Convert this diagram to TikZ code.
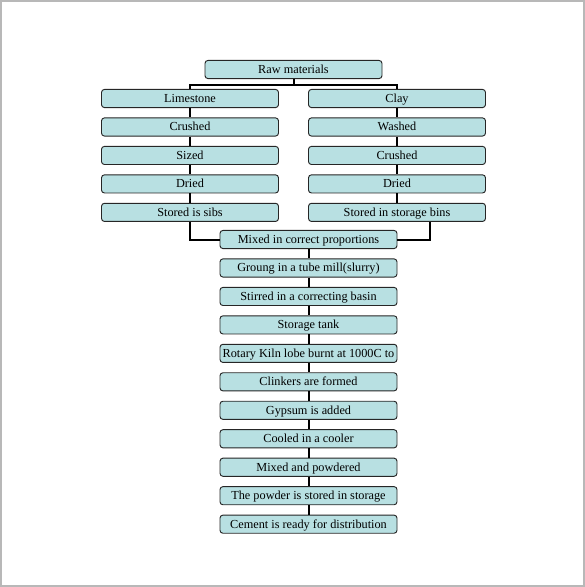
\documentclass[tikz,border=0pt]{standalone}
\usepackage{fontspec}
\setmainfont{Liberation Serif}
\usetikzlibrary{positioning}
\definecolor{boxfill}{RGB}{184,224,226}
\tikzset{
  stage/.style = {draw=black!85, fill=boxfill, rounded corners=2.2pt,
    line width=0.7pt, minimum width=132.75pt, minimum height=13.6pt,
    inner sep=0pt, text height=7.2pt, text depth=1.2pt, align=center,
    font=\fontsize{9.2}{10}\selectfont},
  link/.style = {line width=1.5pt, black}
}
\begin{document}
\begin{tikzpicture}[x=0.75pt, y=-0.75pt, node distance=7.05pt]
  % page frame
  \draw[black!28, line width=1.2pt] (0.8,0.8) rectangle (584.2,586.2);
  \useasboundingbox (0,0) rectangle (585,587);
  % top and the two branches
  \node (raw) [stage] at (293.5,69.5) {Raw materials};
  \node (lime) [stage] at (190,98.5) {Limestone};
  \node (lcrush) [stage, below=of lime] {Crushed};
  \node (sized) [stage, below=of lcrush] {Sized};
  \node (ldried) [stage, below=of sized] {Dried};
  \node (sibs) [stage, below=of ldried] {Stored is sibs};
  \node (clay) [stage] at (397,98.5) {Clay};
  \node (washed) [stage, below=of clay] {Washed};
  \node (ccrush) [stage, below=of washed] {Crushed};
  \node (cdried) [stage, below=of ccrush] {Dried};
  \node (bins) [stage, below=of cdried] {Stored in storage bins};
  % main line
  \node (mixed) [stage] at (308.5,239.5) {Mixed in correct proportions};
  \node (mill) [stage, below=of mixed] {Groung in a tube mill(slurry)};
  \node (basin) [stage, below=of mill] {Stirred in a correcting basin};
  \node (tank) [stage, below=of basin] {Storage tank};
  \node (kiln) [stage, below=of tank] {Rotary Kiln lobe burnt at 1000C to};
  \node (clinker) [stage, below=of kiln] {Clinkers are formed};
  \node (gypsum) [stage, below=of clinker] {Gypsum is added};
  \node (cooled) [stage, below=of gypsum] {Cooled in a cooler};
  \node (powder) [stage, below=of cooled] {Mixed and powdered};
  \node (stored) [stage, below=of powder] {The powder is stored in storage};
  \node (cement) [stage, below=of stored] {Cement is ready for distribution};
  % connectors
  \coordinate (fork) at (293.5,84.5);
  \coordinate (rdrop) at (430,0);
  \draw[link] (raw.south) -- (fork);
  \draw[link] (lime.north) |- (fork) -| (clay.north);
  \foreach \a/\b in {lime/lcrush, lcrush/sized, sized/ldried, ldried/sibs,
      clay/washed, washed/ccrush, ccrush/cdried, cdried/bins,
      mixed/mill, mill/basin, basin/tank, tank/kiln, kiln/clinker,
      clinker/gypsum, gypsum/cooled, cooled/powder, powder/stored,
      stored/cement}
    \draw[link] (\a.south) -- (\b.north);
  \draw[link] (sibs.south) |- (mixed.west);
  \draw[link] (bins.south -| rdrop) |- (mixed.east);
\end{tikzpicture}
\end{document}
